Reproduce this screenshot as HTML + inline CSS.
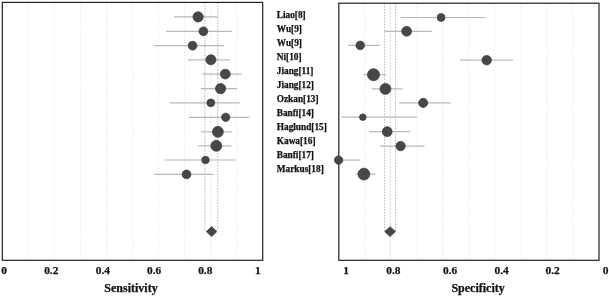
<!DOCTYPE html><html><head><meta charset="utf-8"><style>html,body{margin:0;padding:0;background:#fff;}svg{display:block;filter:blur(0.3px);}text{font-family:"Liberation Serif","Times New Roman",serif;font-weight:bold;fill:#111;stroke:#111;stroke-width:0.25px;}</style></head><body>
<svg width="609" height="296" viewBox="0 0 609 296">
<rect x="0" y="0" width="609" height="296" fill="#fff"/>
<line x1="28.34" y1="2.4" x2="28.34" y2="260.3" stroke="#ececec" stroke-width="1" stroke-dasharray="1.7 1.6"/>
<line x1="572.98" y1="3.2" x2="572.98" y2="260.3" stroke="#ececec" stroke-width="1" stroke-dasharray="1.7 1.6"/>
<line x1="54.38" y1="2.4" x2="54.38" y2="260.3" stroke="#ececec" stroke-width="1" stroke-dasharray="1.7 1.6"/>
<line x1="546.96" y1="3.2" x2="546.96" y2="260.3" stroke="#ececec" stroke-width="1" stroke-dasharray="1.7 1.6"/>
<line x1="80.42" y1="2.4" x2="80.42" y2="260.3" stroke="#ececec" stroke-width="1" stroke-dasharray="1.7 1.6"/>
<line x1="520.94" y1="3.2" x2="520.94" y2="260.3" stroke="#ececec" stroke-width="1" stroke-dasharray="1.7 1.6"/>
<line x1="106.46" y1="2.4" x2="106.46" y2="260.3" stroke="#ececec" stroke-width="1" stroke-dasharray="1.7 1.6"/>
<line x1="494.92" y1="3.2" x2="494.92" y2="260.3" stroke="#ececec" stroke-width="1" stroke-dasharray="1.7 1.6"/>
<line x1="132.50" y1="2.4" x2="132.50" y2="260.3" stroke="#ececec" stroke-width="1" stroke-dasharray="1.7 1.6"/>
<line x1="468.90" y1="3.2" x2="468.90" y2="260.3" stroke="#ececec" stroke-width="1" stroke-dasharray="1.7 1.6"/>
<line x1="158.54" y1="2.4" x2="158.54" y2="260.3" stroke="#ececec" stroke-width="1" stroke-dasharray="1.7 1.6"/>
<line x1="442.88" y1="3.2" x2="442.88" y2="260.3" stroke="#ececec" stroke-width="1" stroke-dasharray="1.7 1.6"/>
<line x1="184.58" y1="2.4" x2="184.58" y2="260.3" stroke="#ececec" stroke-width="1" stroke-dasharray="1.7 1.6"/>
<line x1="416.86" y1="3.2" x2="416.86" y2="260.3" stroke="#ececec" stroke-width="1" stroke-dasharray="1.7 1.6"/>
<line x1="210.62" y1="2.4" x2="210.62" y2="260.3" stroke="#ececec" stroke-width="1" stroke-dasharray="1.7 1.6"/>
<line x1="236.66" y1="2.4" x2="236.66" y2="260.3" stroke="#ececec" stroke-width="1" stroke-dasharray="1.7 1.6"/>
<line x1="364.82" y1="3.2" x2="364.82" y2="260.3" stroke="#ececec" stroke-width="1" stroke-dasharray="1.7 1.6"/>
<line x1="390.3" y1="3.2" x2="390.3" y2="260.3" stroke="#e4e4e4" stroke-width="1"/>
<line x1="204.9" y1="2.4" x2="204.9" y2="231.5" stroke="#b4b4b4" stroke-width="1" stroke-dasharray="1.5 1.4"/>
<line x1="217.75" y1="2.4" x2="217.75" y2="231.5" stroke="#b4b4b4" stroke-width="1" stroke-dasharray="1.5 1.4"/>
<line x1="384.6" y1="3.2" x2="384.6" y2="231.5" stroke="#b4b4b4" stroke-width="1" stroke-dasharray="1.5 1.4"/>
<line x1="395.6" y1="3.2" x2="395.6" y2="231.5" stroke="#b4b4b4" stroke-width="1" stroke-dasharray="1.5 1.4"/>
<line x1="174.05" y1="16.85" x2="217.8" y2="16.85" stroke="#b8b8b8" stroke-width="1.2"/>
<line x1="166" y1="31.30" x2="232.2" y2="31.30" stroke="#b8b8b8" stroke-width="1.2"/>
<line x1="154.05" y1="45.70" x2="223.9" y2="45.70" stroke="#b8b8b8" stroke-width="1.2"/>
<line x1="187.9" y1="59.80" x2="230" y2="59.80" stroke="#b8b8b8" stroke-width="1.2"/>
<line x1="202.5" y1="74.10" x2="241.75" y2="74.10" stroke="#b8b8b8" stroke-width="1.2"/>
<line x1="200.9" y1="88.60" x2="237.1" y2="88.60" stroke="#b8b8b8" stroke-width="1.2"/>
<line x1="170" y1="102.80" x2="239.8" y2="102.80" stroke="#b8b8b8" stroke-width="1.2"/>
<line x1="188.75" y1="117.30" x2="249.3" y2="117.30" stroke="#b8b8b8" stroke-width="1.2"/>
<line x1="200.9" y1="131.80" x2="231.7" y2="131.80" stroke="#b8b8b8" stroke-width="1.2"/>
<line x1="197.9" y1="145.80" x2="231.3" y2="145.80" stroke="#b8b8b8" stroke-width="1.2"/>
<line x1="164.7" y1="160.00" x2="235.6" y2="160.00" stroke="#b8b8b8" stroke-width="1.2"/>
<line x1="154.05" y1="174.40" x2="213.75" y2="174.40" stroke="#b8b8b8" stroke-width="1.2"/>
<line x1="400.9" y1="17.50" x2="485.75" y2="17.50" stroke="#b8b8b8" stroke-width="1.2"/>
<line x1="384.3" y1="31.30" x2="431.7" y2="31.30" stroke="#b8b8b8" stroke-width="1.2"/>
<line x1="348.1" y1="45.40" x2="379.5" y2="45.40" stroke="#b8b8b8" stroke-width="1.2"/>
<line x1="460.3" y1="60.20" x2="513.0" y2="60.20" stroke="#b8b8b8" stroke-width="1.2"/>
<line x1="363.1" y1="74.70" x2="385.9" y2="74.70" stroke="#b8b8b8" stroke-width="1.2"/>
<line x1="371.7" y1="88.85" x2="402.6" y2="88.85" stroke="#b8b8b8" stroke-width="1.2"/>
<line x1="399.05" y1="102.90" x2="450.7" y2="102.90" stroke="#b8b8b8" stroke-width="1.2"/>
<line x1="341.6" y1="117.20" x2="417.1" y2="117.20" stroke="#b8b8b8" stroke-width="1.2"/>
<line x1="369.4" y1="131.65" x2="409.95" y2="131.65" stroke="#b8b8b8" stroke-width="1.2"/>
<line x1="380.1" y1="146.10" x2="424.6" y2="146.10" stroke="#b8b8b8" stroke-width="1.2"/>
<line x1="338.7" y1="160.10" x2="360.4" y2="160.10" stroke="#b8b8b8" stroke-width="1.2"/>
<line x1="355.8" y1="174.10" x2="375.6" y2="174.10" stroke="#b8b8b8" stroke-width="1.2"/>
<polygon points="206.29999999999998,231.6 211.6,226.6 216.9,231.6 211.6,236.6" fill="#474747" stroke="#363636" stroke-width="0.7"/>
<polygon points="384.70000000000005,231.6 390.1,226.65 395.5,231.6 390.1,236.54999999999998" fill="#474747" stroke="#363636" stroke-width="0.7"/>
<rect x="2.3" y="2.4" width="260.40" height="257.90" fill="none" stroke="#202020" stroke-width="1.2"/>
<rect x="338.8" y="3.2" width="260.20" height="257.10" fill="none" stroke="#202020" stroke-width="1.2"/>
<circle cx="198.1" cy="16.85" r="5.15" fill="#474747" stroke="#363636" stroke-width="0.7"/>
<circle cx="203.4" cy="31.30" r="4.40" fill="#474747" stroke="#363636" stroke-width="0.7"/>
<circle cx="192.55" cy="45.70" r="4.40" fill="#474747" stroke="#363636" stroke-width="0.7"/>
<circle cx="210.9" cy="59.80" r="5.05" fill="#474747" stroke="#363636" stroke-width="0.7"/>
<circle cx="225.3" cy="74.10" r="4.92" fill="#474747" stroke="#363636" stroke-width="0.7"/>
<circle cx="220.6" cy="88.60" r="5.15" fill="#474747" stroke="#363636" stroke-width="0.7"/>
<circle cx="210.8" cy="102.80" r="3.90" fill="#474747" stroke="#363636" stroke-width="0.7"/>
<circle cx="225.7" cy="117.30" r="4.15" fill="#474747" stroke="#363636" stroke-width="0.7"/>
<circle cx="217.9" cy="131.80" r="5.45" fill="#474747" stroke="#363636" stroke-width="0.7"/>
<circle cx="216.3" cy="145.80" r="5.45" fill="#474747" stroke="#363636" stroke-width="0.7"/>
<circle cx="205.5" cy="160.00" r="3.75" fill="#474747" stroke="#363636" stroke-width="0.7"/>
<circle cx="186.5" cy="174.40" r="4.40" fill="#474747" stroke="#363636" stroke-width="0.7"/>
<circle cx="441.1" cy="17.50" r="3.90" fill="#474747" stroke="#363636" stroke-width="0.7"/>
<circle cx="406.65" cy="31.30" r="4.92" fill="#474747" stroke="#363636" stroke-width="0.7"/>
<circle cx="360.2" cy="45.40" r="4.30" fill="#474747" stroke="#363636" stroke-width="0.7"/>
<circle cx="486.7" cy="60.20" r="4.75" fill="#474747" stroke="#363636" stroke-width="0.7"/>
<circle cx="373.5" cy="74.70" r="6.05" fill="#474747" stroke="#363636" stroke-width="0.7"/>
<circle cx="385.4" cy="88.85" r="5.45" fill="#474747" stroke="#363636" stroke-width="0.7"/>
<circle cx="423.2" cy="102.90" r="4.55" fill="#474747" stroke="#363636" stroke-width="0.7"/>
<circle cx="362.8" cy="117.20" r="3.30" fill="#474747" stroke="#363636" stroke-width="0.7"/>
<circle cx="387.2" cy="131.65" r="4.92" fill="#474747" stroke="#363636" stroke-width="0.7"/>
<circle cx="400.6" cy="146.10" r="4.65" fill="#474747" stroke="#363636" stroke-width="0.7"/>
<circle cx="338.6" cy="160.10" r="4.20" fill="#474747" stroke="#363636" stroke-width="0.7"/>
<circle cx="363.9" cy="174.10" r="5.95" fill="#474747" stroke="#363636" stroke-width="0.7"/>
<text x="276.75" y="18.10" font-size="9.3">Liao[8]</text>
<text x="276.75" y="32.06" font-size="9.3">Wu[9]</text>
<text x="276.75" y="46.02" font-size="9.3">Wu[9]</text>
<text x="276.75" y="59.98" font-size="9.3">Ni[10]</text>
<text x="276.75" y="73.94" font-size="9.3">Jiang[11]</text>
<text x="276.75" y="87.90" font-size="9.3">Jiang[12]</text>
<text x="276.75" y="101.86" font-size="9.3">Ozkan[13]</text>
<text x="276.75" y="115.82" font-size="9.3">Banfi[14]</text>
<text x="276.75" y="129.78" font-size="9.3">Haglund[15]</text>
<text x="276.75" y="143.74" font-size="9.3">Kawa[16]</text>
<text x="276.75" y="157.70" font-size="9.3">Banfi[17]</text>
<text x="276.75" y="171.66" font-size="9.3">Markus[18]</text>
<text x="4.1" y="274.2" font-size="11.4" text-anchor="middle">0</text>
<text x="51.25" y="274.2" font-size="11.4" text-anchor="middle">0.2</text>
<text x="102.9" y="274.2" font-size="11.4" text-anchor="middle">0.4</text>
<text x="154.1" y="274.2" font-size="11.4" text-anchor="middle">0.6</text>
<text x="205.3" y="274.2" font-size="11.4" text-anchor="middle">0.8</text>
<text x="257.9" y="274.2" font-size="11.4" text-anchor="middle">1</text>
<text x="346" y="274.2" font-size="11.4" text-anchor="middle">1</text>
<text x="393.4" y="274.2" font-size="11.4" text-anchor="middle">0.8</text>
<text x="450" y="274.2" font-size="11.4" text-anchor="middle">0.6</text>
<text x="501.6" y="274.2" font-size="11.4" text-anchor="middle">0.4</text>
<text x="552.7" y="274.2" font-size="11.4" text-anchor="middle">0.2</text>
<text x="605.5" y="274.2" font-size="11.4" text-anchor="middle">0</text>
<text x="131" y="292.1" font-size="12" text-anchor="middle">Sensitivity</text>
<text x="478.1" y="292.1" font-size="12" text-anchor="middle">Specificity</text>
</svg></body></html>
